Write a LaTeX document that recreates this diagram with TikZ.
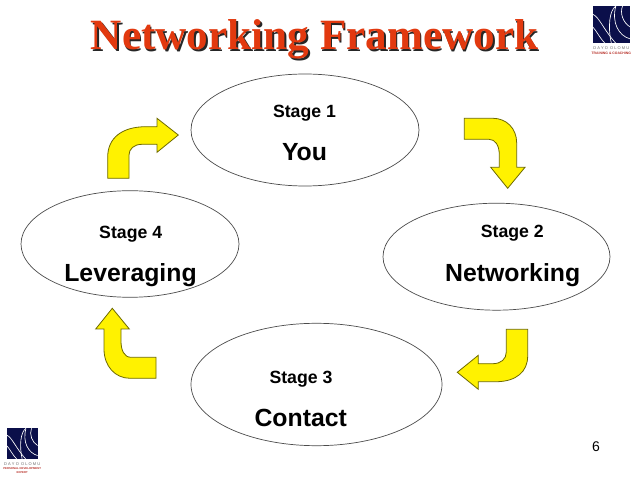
\documentclass[tikz,border=0pt]{standalone}
\usepackage{fontspec}
\setmainfont{Liberation Sans}
\newfontfamily\titlefont{Liberation Serif}
\usetikzlibrary{shapes.geometric}
\definecolor{titlered}{HTML}{E2390F}
\definecolor{logonavy}{HTML}{0B0F4A}
\definecolor{arrowedge}{HTML}{6E6A00}
\definecolor{logored}{HTML}{B8322A}
\tikzset{
  stageoval/.style={draw=black!70,line width=0.7pt,fill=white,ellipse,inner sep=0pt},
  stagelabel/.style={inner sep=0pt,font=\fontsize{17.7}{20}\selectfont\bfseries},
  stagename/.style={inner sep=0pt,font=\fontsize{24.8}{28}\selectfont\bfseries},
  bentarrow/.style={fill=yellow,draw=arrowedge,line width=0.8pt,line join=miter},
  titletext/.style={inner sep=0pt,font=\titlefont\fontsize{43.2}{48}\selectfont\bfseries},
  logoline/.style={draw=white,line width=0.65pt},
  logotext/.style={inner sep=0pt,text=gray!85!black,font=\fontsize{4}{5}\selectfont},
  logosub/.style={inner sep=0pt,text=logored,font=\fontsize{3.4}{4.4}\selectfont\bfseries}
}
\newcommand{\logomark}[3]{%
  \begin{scope}[shift={(#1,#2)},x=#3pt,y=-#3pt]
    \fill[logonavy] (0,0) rectangle (1,1);
    \begin{scope}
      \clip (0,0) rectangle (1,1);
      \draw[logoline] (0,0.22) .. controls (0.18,0.3) and (0.28,0.62) .. (0.62,1);
      \draw[logoline] (0,0.56) .. controls (0.1,0.66) and (0.18,0.85) .. (0.33,1);
      \draw[logoline] (0.5,1) .. controls (0.4,0.55) and (0.45,0.12) .. (0.62,0);
      \draw[logoline] (0.62,0) .. controls (0.5,0.45) and (0.7,0.8) .. (1,0.88);
      \draw[logoline] (0.8,0) .. controls (0.72,0.2) and (0.82,0.45) .. (1,0.56);
    \end{scope}
  \end{scope}}
\begin{document}
\begin{tikzpicture}[x=1pt,y=-1pt]
\useasboundingbox (0,0) rectangle (638,478);
\fill[white] (0,0) rectangle (638,478);

% title with its shadow
\node[titletext,text=black!85] (titleshadow) at (316.1,41.1) {Networking Framework};
\node[titletext,text=titlered] (title) at (314.6,39.6) {Networking Framework};

% stages
\node[stageoval,minimum width=228pt,minimum height=112pt] (s1) at (305,130) {};
\node[stageoval,minimum width=227pt,minimum height=107pt] (s2) at (496.5,256.7) {};
\node[stageoval,minimum width=218pt,minimum height=106.6pt] (s4) at (130,244) {};
\node[stageoval,minimum width=251pt,minimum height=122.4pt] (s3) at (316.5,384.5) {};

\node[stagelabel] (l1) at (304.5,112.7) {Stage 1};
\node[stagename]  (n1) at (304.5,151.7) {You};
\node[stagelabel] (l2) at (512.3,233.5) {Stage 2};
\node[stagename]  (n2) at (512.7,275.3) {Networking};
\node[stagelabel] (l3) at (301,378.7) {Stage 3};
\node[stagename]  (n3) at (300.7,417.5) {Contact};
\node[stagelabel] (l4) at (130.7,234) {Stage 4};
\node[stagename]  (n4) at (130.5,275) {Leveraging};

% bent arrows
\draw[bentarrow] (107.7,178.3) -- (129,178.3) -- (129,155) .. controls (129,149) and (134,144.3) .. (142,144.3)
  -- (157,144.3) -- (157,152.3) -- (178.3,135) -- (157,118.3) -- (157,126.7) -- (146,126.7)
  .. controls (122,126.7) and (107.7,138) .. (107.7,157) -- cycle;
\draw[bentarrow] (464.3,118.3) -- (464.3,139.3) -- (489,139.3) .. controls (495,139.3) and (499.3,145) .. (499.3,155)
  -- (499.3,167.3) -- (490.7,167.3) -- (507.7,188.3) -- (525,167.3) -- (516.7,167.3) -- (516.7,143)
  .. controls (516.7,128) and (506,118.3) .. (493,118.3) -- cycle;
\draw[bentarrow] (506.3,329.3) -- (527.7,329.3) -- (527.7,356) .. controls (527.7,372) and (516,381) .. (498,381.7)
  -- (478.3,381.7) -- (478.3,389.3) -- (457.3,372.3) -- (478.3,355.3) -- (478.3,363.7) -- (493,363.7)
  .. controls (501,363.7) and (506.3,359) .. (506.3,352) -- cycle;
\draw[bentarrow] (112.3,308.3) -- (129.3,329) -- (121,329) -- (121,341) .. controls (121,350) and (124,357.3) .. (131,357.3)
  -- (156,357.3) -- (156,378.3) -- (130,378.3) .. controls (115,378.3) and (104,366) .. (104,349)
  -- (104,329) -- (95.7,329) -- cycle;

% page number
\node[inner sep=0pt,font=\fontsize{14}{16}\selectfont] (page) at (596,447) {6};

% logos
\logomark{592.7}{6}{37.3}
\node[logotext] (brand1) at (611.3,48) {D A Y O\ \ O L O M U};
\node[logosub]  (sub1)   at (611.3,53) {TRAINING \& COACHING};
\logomark{6.7}{428.3}{31}
\node[logotext] (brand2) at (22.2,464) {D A Y O\ \ O L O M U};
\node[logosub,font=\fontsize{2.8}{4}\selectfont\bfseries]  (sub2)   at (22.2,468.3) {PERSONAL DEVELOPMENT};
\node[logosub,font=\fontsize{2.8}{4}\selectfont\bfseries]  (sub3)   at (22.2,472.3) {EXPERT};
\end{tikzpicture}
\end{document}
